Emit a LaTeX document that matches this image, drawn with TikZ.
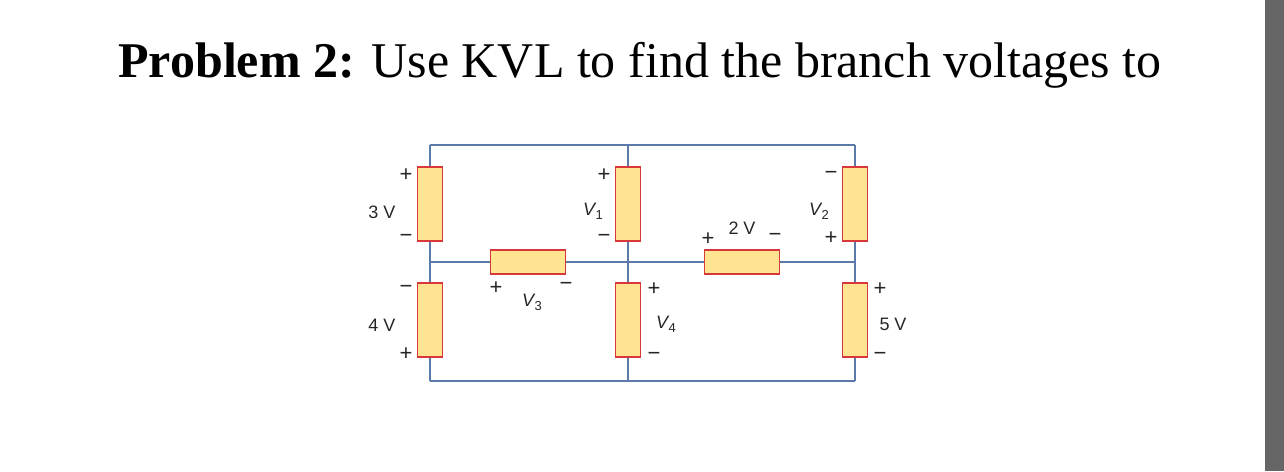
\documentclass[tikz,border=0pt]{standalone}
\usepackage{fontspec}
\setmainfont{Liberation Serif}
\newfontfamily\lab{Liberation Sans}
\definecolor{wire}{HTML}{5A7BAA}
\definecolor{rfill}{HTML}{FFE591}
\definecolor{redge}{HTML}{D9383A}
\newcommand{\vsub}[1]{\textit{V}\kern-1pt\raisebox{-4pt}{\fontsize{13}{13}\selectfont #1}}
\begin{document}
\begin{tikzpicture}[x=1pt,y=-1pt,
  wire/.style={draw=wire,line width=1.3pt},
  vr/.style={draw=redge,fill=rfill,line width=1.2pt,minimum width=25pt,minimum height=74pt,inner sep=0pt},
  hr/.style={draw=redge,fill=rfill,line width=1.2pt,minimum width=75pt,minimum height=24pt,inner sep=0pt},
  lb/.style={font=\lab\fontsize{18}{18}\selectfont,inner sep=0pt,text=black!85},
  pm/.style={font=\lab\fontsize{22}{22}\selectfont,inner sep=0pt,text=black!85}]
\useasboundingbox (0,0) rectangle (1284,471);
\fill[black!60] (1265,0) rectangle (1284,471);
\node[anchor=base,font=\fontsize{50}{50}\selectfont] (title) at (640,77) {\textbf{Problem 2:} Use KVL to find the branch voltages to};
\coordinate (tl) at (430,145); \coordinate (tm) at (628,145); \coordinate (tr) at (855,145);
\coordinate (ml) at (430,262); \coordinate (mm) at (628,262); \coordinate (mr) at (855,262);
\coordinate (bl) at (430,381); \coordinate (bm) at (628,381); \coordinate (br) at (855,381);
\draw[wire] (tl) -- (tr);
\draw[wire] (bl) -- (br);
\draw[wire] (tl) -- (bl); \draw[wire] (tm) -- (bm); \draw[wire] (tr) -- (br);
\draw[wire] (ml) -- (mr);
\node[vr] (r1) at (430,204) {}; \node[vr] (r2) at (430,320) {};
\node[vr] (r3) at (628,204) {}; \node[vr] (r4) at (628,320) {};
\node[vr] (r5) at (855,204) {}; \node[vr] (r6) at (855,320) {};
\node[hr] (h1) at (528,262) {}; \node[hr] (h2) at (742,262) {};
\node[pm] (p1) at (406,175) {+}; \node[pm] (m1) at (406,238) {\textminus}; \node[lb] (l1) at (382,212) {3 V};
\node[pm] (m2) at (406,289) {\textminus}; \node[pm] (p2) at (406,354) {+}; \node[lb] (l2) at (382,325) {4 V};
\node[pm] (p3) at (604,175) {+}; \node[pm] (m3) at (604,238) {\textminus}; \node[lb] (l3) at (593,211) {\vsub{1}};
\node[pm] (p4) at (654,289) {+}; \node[pm] (m4) at (654,356) {\textminus}; \node[lb] (l4) at (666,324) {\vsub{4}};
\node[pm] (m5) at (831,175) {\textminus}; \node[pm] (p5) at (831,238) {+}; \node[lb] (l5) at (819,211) {\vsub{2}};
\node[pm] (p6) at (880,289) {+}; \node[pm] (m6) at (880,356) {\textminus}; \node[lb] (l6) at (893,324) {5 V};
\node[pm] (p7) at (496,288) {+}; \node[pm] (m7) at (566,286) {\textminus}; \node[lb] (l7) at (532,302) {\vsub{3}};
\node[pm] (p8) at (708,239) {+}; \node[pm] (m8) at (775,237) {\textminus}; \node[lb] (l8) at (742,228) {2 V};
\end{tikzpicture}
\end{document}
